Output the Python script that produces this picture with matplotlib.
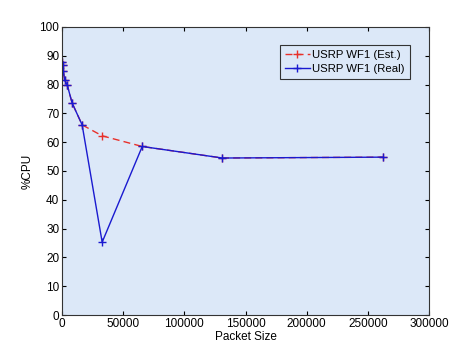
import matplotlib
matplotlib.use("Agg")
import matplotlib.pyplot as plt

plt.rcParams['font.family'] = ['Liberation Sans', 'DejaVu Sans']

# packet sizes and %CPU
packet = [256, 512, 1024, 2048, 4096, 8192, 16384, 32768, 65536, 131072, 262144]
cpu_real = [87.7, 86.8, 84.8, 81.5, 80.0, 73.6, 66.0, 25.3, 58.5, 54.5, 54.8]
cpu_est = [87.7, 86.8, 84.8, 81.5, 80.0, 73.6, 66.0, 62.2, 58.5, 54.5, 54.8]

fig = plt.figure(figsize=(4.74, 3.54), dpi=100)
ax = fig.add_axes([0.131, 0.110, 0.774, 0.814])
ax.set_facecolor('#dce8f8')

ax.plot(packet, cpu_est, color='#e8302a', ls=(0, (5, 3)), lw=1, marker='+', ms=6, mew=1,
        label='USRP WF1 (Est.)')
ax.plot(packet, cpu_real, color='#1a1ad0', lw=1, marker='+', ms=6, mew=1,
        label='USRP WF1 (Real)')

ax.set_xlim(0, 300000)
ax.set_ylim(0, 100)
ax.set_xticks(range(0, 300001, 50000))
ax.set_yticks(range(0, 101, 10))
ax.tick_params(direction='in', top=True, right=True, labelsize=8.5, length=3, pad=2)
for s in ax.spines.values():
    s.set_linewidth(0.8)
    s.set_color('#333333')
ax.set_xlabel('Packet Size', fontsize=8.5, labelpad=1)
ax.set_ylabel('%CPU', fontsize=8.5, labelpad=4)

leg = ax.legend(loc='upper right', fontsize=8.2, fancybox=False, framealpha=1,
                edgecolor='#333333', facecolor='#dce8f8', handlelength=2.2,
                borderpad=0.45, labelspacing=0.3, handletextpad=0.2,
                bbox_to_anchor=(0.963, 0.957))
leg.get_frame().set_linewidth(0.8)

fig.savefig('out.png', dpi=100)
